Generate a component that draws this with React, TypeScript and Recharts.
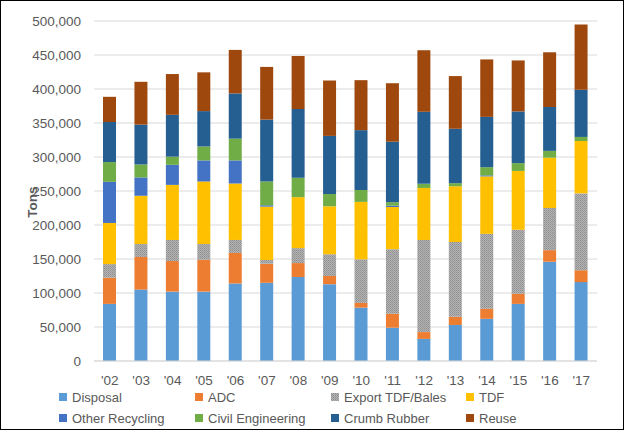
import React from 'react';
import { BarChart, Bar, XAxis, YAxis, CartesianGrid } from 'recharts';

const years = ["'02", "'03", "'04", "'05", "'06", "'07", "'08", "'09", "'10", "'11", "'12", "'13", "'14", "'15", "'16", "'17"];
const disposal = [84000, 105000, 102000, 102000, 114000, 115000, 123500, 113000, 78500, 49000, 32500, 53000, 62000, 84000, 146000, 116000];
const adc = [38500, 48000, 45000, 47000, 45000, 28000, 20500, 12000, 7000, 20500, 10000, 12000, 15000, 15000, 17000, 17500];
const exportBales = [20000, 19000, 31000, 23000, 19000, 5500, 22000, 32000, 64000, 95000, 135500, 110000, 110000, 94000, 62000, 113000];
const tdf = [60500, 71000, 81000, 92000, 83000, 78500, 75000, 70500, 84500, 62000, 76500, 82000, 84500, 86500, 74000, 77000];
const otherRecycling = [60500, 27000, 29500, 31000, 34000, 2000, 0, 0, 0, 2000, 0, 0, 1500, 0, 0, 0];
const civilEngineering = [29000, 19000, 12000, 20500, 32000, 35000, 28500, 18000, 17500, 5000, 6000, 4500, 12000, 11500, 10000, 6000];
const crumbRubber = [59000, 58600, 61500, 52000, 66500, 91000, 101000, 85500, 88000, 89000, 106000, 80000, 74000, 76000, 64500, 69500];
const reuse = [37000, 63000, 60000, 57000, 64000, 77500, 78000, 81500, 73500, 86000, 90500, 77500, 84500, 75000, 80500, 96000];
const yTicks = [0, 50000, 100000, 150000, 200000, 250000, 300000, 350000, 400000, 450000, 500000];

const seriesList = [
  { key: 'disposal', name: 'Disposal', values: disposal, color: '#5B9BD5' },
  { key: 'adc', name: 'ADC', values: adc, color: '#ED7D31' },
  { key: 'exportBales', name: 'Export TDF/Bales', values: exportBales, color: 'url(#exportPat)' },
  { key: 'tdf', name: 'TDF', values: tdf, color: '#FFC000' },
  { key: 'otherRecycling', name: 'Other Recycling', values: otherRecycling, color: '#4472C4' },
  { key: 'civilEngineering', name: 'Civil Engineering', values: civilEngineering, color: '#70AD47' },
  { key: 'crumbRubber', name: 'Crumb Rubber', values: crumbRubber, color: '#255E91' },
  { key: 'reuse', name: 'Reuse', values: reuse, color: '#9E480E' },
];

const data = years.map((y, i) => {
  const row: Record<string, any> = { year: y };
  seriesList.forEach((s) => { row[s.key] = s.values[i]; });
  return row;
});

const FONT = '"Liberation Sans", Arial, sans-serif';
const TEXT = '#595959';

const PatternDef = ({ id }: { id: string }) => (
  <pattern id={id} width="2" height="2" patternUnits="userSpaceOnUse">
    <rect width="2" height="2" fill="#B4B4B4" />
    <rect x="0" y="0" width="1" height="1" fill="#8E8E8E" />
    <rect x="1" y="1" width="1" height="1" fill="#9A9A9A" />
  </pattern>
);

const legendCols = [59, 195, 331, 466];
const legendRows = [397, 418];

const Legend = () => (
  <div style={{ position: 'absolute', left: 0, top: 0, width: 624, height: 430, pointerEvents: 'none' }}>
    {seriesList.map((s, i) => {
      const col = i % 4;
      const row = Math.floor(i / 4);
      const x = legendCols[col];
      const y = legendRows[row];
      return (
        <div key={s.key} style={{ position: 'absolute', left: x, top: y - 9, height: 18, display: 'flex', alignItems: 'center', whiteSpace: 'nowrap' }}>
          <svg width={8} height={8} style={{ display: 'block', marginRight: 5 }}>
            <defs><PatternDef id={'lp' + i} /></defs>
            <rect width={8} height={8} fill={s.key === 'exportBales' ? `url(#lp${i})` : s.color} />
          </svg>
          <span style={{ fontFamily: FONT, fontSize: 13, color: TEXT }}>{s.name}</span>
        </div>
      );
    })}
  </div>
);

export default function App() {
  return (
    <div style={{ position: 'absolute', left: 0, top: 0, width: 624, height: 430, background: '#fff' }}>
      <BarChart width={624} height={430} data={data} margin={{ top: 21, right: 27, left: 0, bottom: 39 }}>
        <defs>
          <PatternDef id="exportPat" />
        </defs>
        <CartesianGrid vertical={false} stroke="#D9D9D9" />
        <XAxis
          dataKey="year"
          tickLine={false}
          tickSize={0}
          tickMargin={14}
          axisLine={{ stroke: '#D9D9D9' }}
          tick={{ fill: TEXT, fontSize: 13.5, fontFamily: FONT }}
          interval={0}
        />
        <YAxis
          width={94}
          domain={[0, 500000]}
          ticks={yTicks}
          axisLine={false}
          tickLine={false}
          tickSize={0}
          tickMargin={13}
          tickFormatter={(v: number) => v.toLocaleString('en-US')}
          tick={{ fill: TEXT, fontSize: 13.5, fontFamily: FONT }}
          label={{
            content: () => (
              <text x={32} y={202} transform="rotate(-90 32 202)" textAnchor="middle" dominantBaseline="central"
                style={{ fontFamily: FONT, fontSize: 13.5, fontWeight: 'bold', fill: TEXT }}>Tons</text>
            ),
          }}
        />
        {seriesList.map((s) => (
          <Bar key={s.key} dataKey={s.key} name={s.name} stackId="a" fill={s.color} barSize={13} isAnimationActive={false} />
        ))}
      </BarChart>
      <Legend />
      <div style={{ position: 'absolute', left: 0, top: 0, width: 624, height: 430, boxSizing: 'border-box', border: '1px solid #000', pointerEvents: 'none' }} />
    </div>
  );
}
